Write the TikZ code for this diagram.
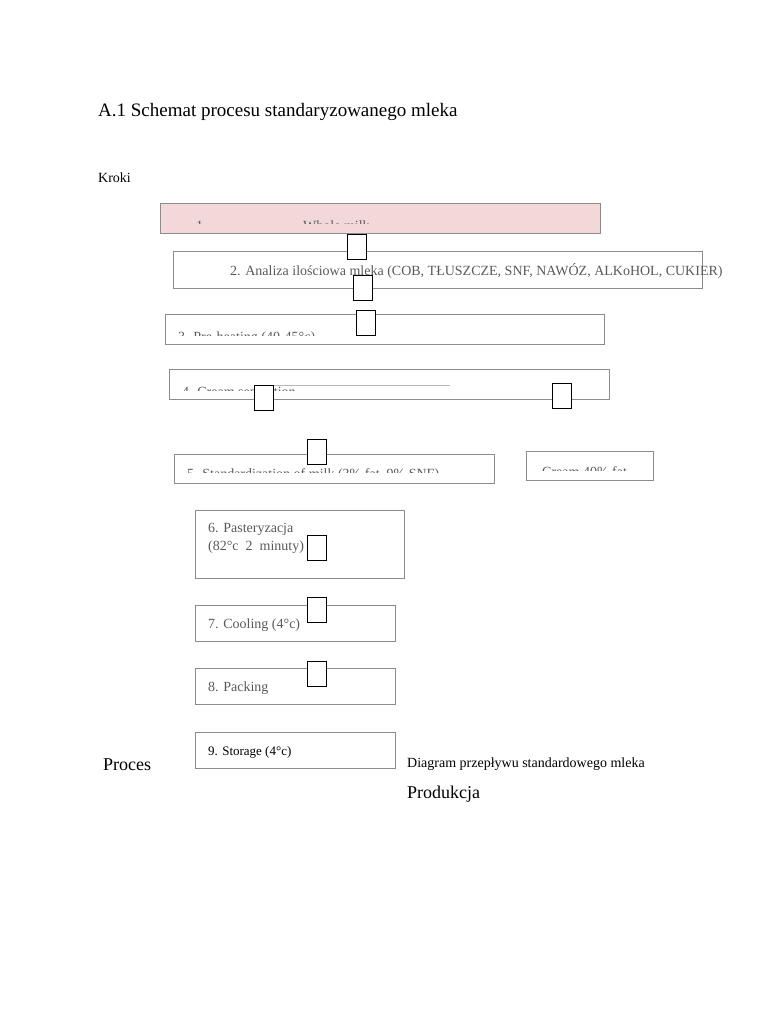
\documentclass[tikz,border=0pt]{standalone}
\usepackage{fontspec}
\setmainfont{Liberation Serif}
\definecolor{pinkf}{RGB}{242,216,216}
\definecolor{txtg}{RGB}{90,90,90}
\definecolor{edg}{RGB}{140,140,140}
\begin{document}
\begin{tikzpicture}[x=1pt,y=-1pt,
  stepbox/.style={draw=edg,line width=0.8pt},
  ph/.style={draw=black,fill=white,line width=0.8pt,minimum width=19pt,minimum height=25pt,inner sep=0pt},
  bt/.style={anchor=base west,inner sep=0pt,text=txtg,font=\fontsize{14}{16}\selectfont}]
\useasboundingbox (0,0) rectangle (768,1024);
\fill[white] (0,0) rectangle (768,1024);
\node[anchor=base west,inner sep=0pt,font=\fontsize{19}{22}\selectfont] (title) at (98,117) {A.1 Schemat procesu standaryzowanego mleka};
\node[anchor=base west,inner sep=0pt,font=\fontsize{14}{16}\selectfont] (kroki) at (98,183) {Kroki};
% boxes
\draw[stepbox,fill=pinkf] (160,203) rectangle (600,233);
\begin{scope}\clip (160,203) rectangle (600,224);
\node[bt] (t1a) at (196,231) {1.};
\node[bt] (t1b) at (303,231) {Whole milk};
\end{scope}
\draw[stepbox] (173,251) rectangle (702,288);
\node[bt] (t2) at (230,275) {2. Analiza ilościowa mleka (COB, TŁUSZCZE, SNF, NAWÓZ, ALKoHOL, CUKIER)};
\draw[stepbox] (165,314) rectangle (604,344);
\begin{scope}\clip (165,314) rectangle (604,335);
\node[bt] (t3) at (178,341) {3. Pre-heating (40-45°c)};
\end{scope}
\draw[stepbox] (169,369) rectangle (609,399);
\begin{scope}\clip (169,369) rectangle (609,390);
\node[bt] (t4) at (182,396) {4. Cream separation};
\end{scope}
\draw[edg!60,line width=0.6pt] (255,385) -- (450,385);
\draw[stepbox] (174,454) rectangle (494,483);
\begin{scope}\clip (174,454) rectangle (494,472);
\node[bt] (t5) at (187,478) {5. Standardization of milk (3\% fat, 9\% SNF)};
\end{scope}
\draw[stepbox] (526,451) rectangle (653,480);
\begin{scope}\clip (526,451) rectangle (653,470);
\node[bt] (tc) at (542,476) {Cream 40\% fat};
\end{scope}
\draw[stepbox] (195,510) rectangle (404,578);
\node[bt] (t6a) at (208,532) {6. Pasteryzacja};
\node[bt] (t6b) at (208,550) {(82°c\ \ 2\ \ minuty)};
\draw[stepbox] (195,605) rectangle (395,641);
\node[bt] (t7) at (208,628) {7. Cooling (4°c)};
\draw[stepbox] (195,668) rectangle (395,704);
\node[bt] (t8) at (208,691) {8. Packing};
\draw[stepbox] (195,732) rectangle (395,768);
\node[bt,text=black,font=\fontsize{13}{15}\selectfont] (t9) at (208,755) {9. Storage (4°c)};
% placeholders
\node[ph] (p1) at (356.5,246.5) {};
\node[ph] (p2) at (362.5,288) {};
\node[ph] (p3) at (366,322.5) {};
\node[ph] (p4) at (263.5,397.5) {};
\node[ph] (p5) at (561.5,396) {};
\node[ph] (p6) at (316.5,451.5) {};
\node[ph] (p7) at (316.5,548) {};
\node[ph] (p8) at (316.5,610) {};
\node[ph] (p9) at (316.5,673.5) {};
% captions
\node[anchor=base west,inner sep=0pt,font=\fontsize{18}{20}\selectfont] (proc) at (103,770) {Proces};
\node[anchor=base west,inner sep=0pt,font=\fontsize{14}{16}\selectfont] (diag) at (407,767) {Diagram przepływu standardowego mleka};
\node[anchor=base west,inner sep=0pt,font=\fontsize{18}{20}\selectfont] (prod) at (407,798) {Produkcja};
\end{tikzpicture}
\end{document}
